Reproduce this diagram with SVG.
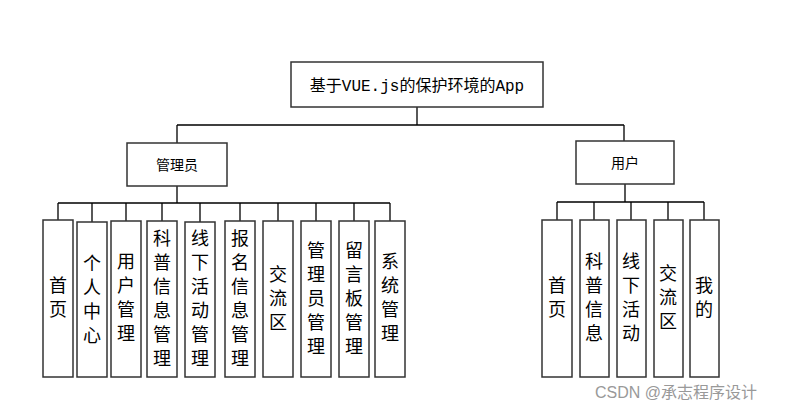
<svg xmlns="http://www.w3.org/2000/svg" width="786" height="411" viewBox="0 0 786 411">
<style>
rect{fill:#fff;stroke:#333;stroke-width:1.5}
text{font-family:"Noto Sans CJK SC",sans-serif;font-size:17px;fill:#000;text-anchor:middle}
.c path{fill:none;stroke:#000;stroke-width:1.3}
.v{font-size:18px}
</style>
<rect x="0" y="0" width="786" height="411" style="fill:#fff;stroke:none"/>
<g class="c">
<path d="M417 107V125M177 125H624M177 125V143M624 125V141"/>
<path d="M177 186V203M58 203H390M58 203V220M92 203V222M126 203V221M162 203V221M200 203V222M240 203V221M278 203V221M316 203V221M354 203V221M390 203V221"/>
<path d="M625 184V202M557 202H704M557 202V220M594 202V220M631 202V220M668 202V220M704 202V220"/>
</g>
<g id="root"><rect x="291" y="62" width="252" height="45"/><text x="417" y="91" style="font-family:'Liberation Mono','Noto Sans CJK SC',monospace;font-size:16px">基于VUE.js的保护环境的App</text></g>
<g id="admin"><rect x="127" y="143" width="100" height="43"/><text x="177" y="170" style="font-size:14px">管理员</text></g>
<g id="user"><rect x="576" y="141" width="98" height="43"/><text x="625" y="168" style="font-size:14px">用户</text></g>
<g id="a1"><rect x="43" y="220" width="30" height="157"/><text class="v" x="58"><tspan x="58" y="292">首</tspan><tspan x="58" y="316">页</tspan></text></g>
<g id="a2"><rect x="77" y="222" width="30" height="155"/><text class="v"><tspan x="92" y="270">个</tspan><tspan x="92" y="294">人</tspan><tspan x="92" y="318">中</tspan><tspan x="92" y="342">心</tspan></text></g>
<g id="a3"><rect x="111" y="221" width="30" height="156"/><text class="v"><tspan x="126" y="268">用</tspan><tspan x="126" y="292">户</tspan><tspan x="126" y="316">管</tspan><tspan x="126" y="340">理</tspan></text></g>
<g id="a4"><rect x="147" y="221" width="30" height="156"/><text class="v"><tspan x="162" y="245">科</tspan><tspan x="162" y="269">普</tspan><tspan x="162" y="293">信</tspan><tspan x="162" y="317">息</tspan><tspan x="162" y="341">管</tspan><tspan x="162" y="365">理</tspan></text></g>
<g id="a5"><rect x="185" y="222" width="30" height="155"/><text class="v"><tspan x="200" y="245">线</tspan><tspan x="200" y="269">下</tspan><tspan x="200" y="293">活</tspan><tspan x="200" y="317">动</tspan><tspan x="200" y="341">管</tspan><tspan x="200" y="365">理</tspan></text></g>
<g id="a6"><rect x="225" y="221" width="30" height="156"/><text class="v"><tspan x="240" y="245">报</tspan><tspan x="240" y="269">名</tspan><tspan x="240" y="293">信</tspan><tspan x="240" y="317">息</tspan><tspan x="240" y="341">管</tspan><tspan x="240" y="365">理</tspan></text></g>
<g id="a7"><rect x="263" y="221" width="30" height="156"/><text class="v"><tspan x="278" y="281">交</tspan><tspan x="278" y="305">流</tspan><tspan x="278" y="329">区</tspan></text></g>
<g id="a8"><rect x="301" y="221" width="30" height="156"/><text class="v"><tspan x="316" y="257">管</tspan><tspan x="316" y="281">理</tspan><tspan x="316" y="305">员</tspan><tspan x="316" y="329">管</tspan><tspan x="316" y="353">理</tspan></text></g>
<g id="a9"><rect x="339" y="221" width="30" height="156"/><text class="v"><tspan x="354" y="257">留</tspan><tspan x="354" y="281">言</tspan><tspan x="354" y="305">板</tspan><tspan x="354" y="329">管</tspan><tspan x="354" y="353">理</tspan></text></g>
<g id="a10"><rect x="375" y="221" width="30" height="156"/><text class="v"><tspan x="390" y="268">系</tspan><tspan x="390" y="292">统</tspan><tspan x="390" y="316">管</tspan><tspan x="390" y="340">理</tspan></text></g>
<g id="u1"><rect x="542" y="220" width="30" height="157"/><text class="v"><tspan x="557" y="292">首</tspan><tspan x="557" y="316">页</tspan></text></g>
<g id="u2"><rect x="580" y="220" width="29" height="157"/><text class="v"><tspan x="594" y="268">科</tspan><tspan x="594" y="292">普</tspan><tspan x="594" y="316">信</tspan><tspan x="594" y="340">息</tspan></text></g>
<g id="u3"><rect x="617" y="220" width="29" height="157"/><text class="v"><tspan x="631" y="268">线</tspan><tspan x="631" y="292">下</tspan><tspan x="631" y="316">活</tspan><tspan x="631" y="340">动</tspan></text></g>
<g id="u4"><rect x="654" y="220" width="29" height="157"/><text class="v"><tspan x="668" y="280">交</tspan><tspan x="668" y="304">流</tspan><tspan x="668" y="328">区</tspan></text></g>
<g id="u5"><rect x="690" y="220" width="29" height="157"/><text class="v"><tspan x="704" y="292">我</tspan><tspan x="704" y="316">的</tspan></text></g>
<text x="676" y="398" style="font-size:16px;fill:#999;font-family:'Liberation Sans','Noto Sans CJK SC',sans-serif">CSDN @承志程序设计</text>
</svg>
